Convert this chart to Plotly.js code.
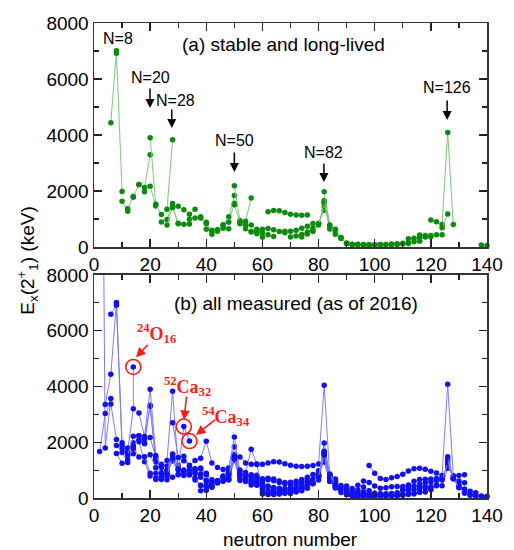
<!DOCTYPE html>
<html><head><meta charset="utf-8">
<script src="https://cdn.plot.ly/plotly-3.0.1.min.js"></script>
<style>html,body{margin:0;padding:0;background:#fff}#chart{width:514px;height:550px}</style>
</head><body><div id="chart"></div>
<script>
// ---------- (a) stable and long-lived : isotopic chains [N, E(2+1) keV] ----------
const stC  = [[6,4439],[8,7012]];
const stO  = [[8,6917],[10,1982]];
const stNe = [[10,1634],[12,1275]];
const stMg = [[12,1369],[14,1809]];
const stSi = [[14,1779],[16,2235]];
const stS  = [[16,2230],[18,2128],[20,3291]];
const stAr = [[18,1970],[20,2168],[22,1461]];
const stCa = [[20,3904],[22,1525],[24,1157],[26,1346],[28,3832]];
const stTi = [[24,889],[26,984],[28,1554]];
const stCr = [[26,783],[28,1434],[30,835]];
const stFe = [[28,1408],[30,847],[32,811],[34,824]];
const stNi = [[30,1454],[32,1333],[34,1173],[36,1346]];
const stZn = [[34,992],[36,1039],[38,1077],[40,885]];
const stGe = [[38,1040],[40,834],[42,596],[44,563]];
const stSe = [[40,635],[42,559],[44,614],[46,666],[48,655]];
const stKr = [[42,455],[44,617],[46,777],[48,882],[50,1565]];
const stSr = [[46,793],[48,1077],[50,1836]];
const stZr = [[50,2186],[52,935],[54,919],[56,1751]];
const stMo = [[50,1510],[52,871],[54,778],[56,787],[58,536]];
const stRu = [[52,833],[54,652],[56,540],[58,475],[60,358]];
const stPd = [[56,556],[58,556],[60,512],[62,434],[64,374]];
const stCd = [[58,633],[60,633],[62,658],[64,618],[66,558],[68,513]];
const stSn = [[62,1257],[64,1300],[66,1294],[68,1230],[70,1171],[72,1141],[74,1132],[76,1141]];
const stTe = [[68,560],[70,564],[72,603],[74,666],[76,743],[78,839]];
const stXe = [[70,354],[72,389],[74,443],[76,536],[78,668],[80,847],[82,1313]];
const stBa = [[74,357],[76,465],[78,605],[80,818],[82,1436]];
const stCe = [[78,552],[80,789],[82,1596],[84,641]];
const stNd = [[82,1576],[84,697],[86,454],[88,302],[90,130]];
const stSm = [[82,1660],[84,747],[86,550],[88,334],[90,122],[92,82]];
const stGd = [[82,1972],[84,784],[86,638],[88,344],[90,123],[92,89],[94,80],[96,75]];
const stDy = [[90,138],[92,99],[94,87],[96,81],[98,73]];
const stEr = [[94,102],[96,91],[98,81],[100,80],[102,79]];
const stYb = [[98,88],[100,84],[102,79],[104,77],[106,82]];
const stHf = [[102,91],[104,88],[106,93],[108,93]];
const stW  = [[106,104],[108,100],[110,111],[112,122]];
const stOs = [[108,120],[110,137],[112,155],[114,187],[116,206]];
const stPt = [[112,296],[114,317],[116,328],[118,356],[120,407]];
const stHg = [[116,426],[118,412],[120,368],[122,440],[124,437]];
const stPb = [[120,961],[122,899],[124,803],[126,4085],[128,800]];
const stPo = [[124,687],[126,1181]];
const stRaTh = [[138,68],[140,53]];
const stableChains = [stC,stO,stNe,stMg,stSi,stS,stAr,stCa,stTi,stCr,stFe,stNi,stZn,stGe,stSe,stKr,stSr,stZr,stMo,stRu,stPd,stCd,stSn,stTe,stXe,stBa,stCe,stNd,stSm,stGd,stDy,stEr,stYb,stHf,stW,stOs,stPt,stHg,stPb,stPo,stRaTh];

// ---------- (b) all measured (as of 2016) ----------
const allHe = [[2,27000],[4,1797],[6,3570]];
const allBe = [[2,1670],[4,3030],[6,3368],[8,2102]];
const allC  = [[4,3354],[6,4439],[8,7012],[10,1766],[12,1585],[14,1588]];
const allO  = [[6,6590],[8,6917],[10,1982],[12,1674],[14,3199],[14,4700]];
const allNe = [[8,1887],[10,1634],[12,1275],[14,1982],[16,2018],[18,1304],[20,792],[22,722]];
const allMg = [[8,1598],[10,1247],[12,1369],[14,1809],[16,1474],[18,1483],[20,885],[22,660],[24,660],[26,656]];
const allSi = [[10,1879],[12,1796],[14,1779],[16,2235],[18,1942],[20,3328],[22,1399],[24,1084],[26,986],[28,742]];
const allS  = [[12,1512],[14,2211],[16,2230],[18,2128],[20,3291],[22,1292],[24,904],[26,890],[28,1329]];
const allAr = [[14,1867],[16,2091],[18,1970],[20,2168],[22,1461],[24,1208],[26,1144],[28,1577],[30,1178]];
const allCa = [[16,3045],[18,2206],[20,3904],[22,1525],[24,1157],[26,1346],[28,3832],[30,1027],[32,2563],[34,2043]];
const allTi = [[20,1555],[22,1083],[24,889],[26,984],[28,1554],[30,1050],[32,1495],[34,1128],[36,1047]];
const allCr = [[22,892],[24,752],[26,783],[28,1434],[30,835],[32,1007],[34,880],[36,646],[38,446],[40,420]];
const allFe = [[24,765],[26,849],[28,1408],[30,847],[32,811],[34,824],[36,877],[38,746],[40,573],[42,522]];
const allNi = [[28,2701],[30,1454],[32,1333],[34,1173],[36,1346],[38,1425],[40,2033],[42,1260],[44,1096],[46,1024],[48,992]];
const allZn = [[30,1004],[32,954],[34,992],[36,1039],[38,1077],[40,885],[42,653],[44,606],[46,599],[48,730],[50,1492]];
const allGe = [[32,902],[34,957],[36,1016],[38,1040],[40,834],[42,596],[44,563],[46,619],[48,659],[50,1348],[52,625]];
const allSe = [[34,854],[36,945],[38,862],[40,635],[42,559],[44,614],[46,666],[48,655],[50,1455],[52,704],[54,590]];
const allKr = [[36,710],[38,456],[40,424],[42,455],[44,617],[46,777],[48,882],[50,1565],[52,775],[54,707],[56,769],[58,665],[60,554]];
const allSr = [[38,261],[40,278],[42,386],[44,573],[46,793],[48,1077],[50,1836],[52,832],[54,815],[56,837],[58,815],[60,144],[62,129],[64,126]];
const allZr = [[40,290],[42,407],[44,540],[46,752],[48,1057],[50,2186],[52,935],[54,919],[56,1751],[58,1223],[60,212],[62,152],[64,140],[66,152],[68,175]];
const allMo = [[42,444],[44,567],[46,740],[48,948],[50,1510],[52,871],[54,778],[56,787],[58,536],[60,297],[62,192],[64,172],[66,193],[68,214]];
const allRu = [[44,616],[46,739],[48,865],[50,1431],[52,833],[54,652],[56,540],[58,475],[60,358],[62,270],[64,242],[66,241],[68,237],[70,265],[72,270]];
const allPd = [[48,814],[50,1415],[52,863],[54,666],[56,556],[58,556],[60,512],[62,434],[64,374],[66,349],[68,333],[70,341],[72,379],[74,438]];
const allCd = [[50,1395],[52,1004],[54,777],[56,658],[58,633],[60,633],[62,658],[64,618],[66,558],[68,513],[70,488],[72,506],[74,569],[76,613],[78,652],[80,645]];
const allSn = [[52,1472],[54,1260],[56,1208],[58,1206],[60,1212],[62,1257],[64,1300],[66,1294],[68,1230],[70,1171],[72,1141],[74,1132],[76,1141],[78,1169],[80,1221],[82,4041],[84,726],[86,682]];
const allTe = [[58,744],[60,689],[62,709],[64,679],[66,606],[68,560],[70,564],[72,603],[74,666],[76,743],[78,839],[80,974],[82,1279],[84,606],[86,443]];
const allXe = [[56,470],[58,453],[60,450],[62,393],[64,337],[66,322],[68,331],[70,354],[72,389],[74,443],[76,536],[78,668],[80,847],[82,1313],[84,589],[86,377],[88,287],[90,252]];
const allBa = [[64,185],[66,196],[68,230],[70,256],[72,284],[74,357],[76,465],[78,605],[80,818],[82,1436],[84,602],[86,360],[88,199],[90,181],[92,142]];
const allCe = [[66,142],[68,170],[70,207],[72,254],[74,325],[76,409],[78,552],[80,789],[82,1596],[84,641],[86,397],[88,258],[90,158],[92,97]];
const allNd = [[70,159],[72,213],[74,294],[76,374],[78,521],[80,774],[82,1576],[84,697],[86,454],[88,302],[90,130],[92,73],[94,71]];
const allSm = [[74,256],[76,347],[78,531],[80,768],[82,1660],[84,747],[86,550],[88,334],[90,122],[92,82],[94,76],[96,73]];
const allGd = [[78,515],[80,743],[82,1972],[84,784],[86,638],[88,344],[90,123],[92,89],[94,80],[96,75],[98,72]];
const allDy = [[82,1677],[84,803],[86,614],[88,335],[90,138],[92,99],[94,87],[96,81],[98,73],[100,77]];
const allEr = [[82,1579],[84,808],[86,561],[88,344],[90,192],[92,126],[94,102],[96,91],[98,81],[100,80],[102,79],[104,77]];
const allYb = [[82,1531],[84,821],[86,536],[88,358],[90,243],[92,167],[94,123],[96,102],[98,88],[100,84],[102,79],[104,77],[106,82],[108,84]];
const allHf = [[84,858],[86,477],[88,390],[90,285],[92,211],[94,159],[96,124],[98,100],[100,95],[102,91],[104,88],[106,93],[108,93],[110,98]];
const allW  = [[88,450],[90,332],[92,252],[94,199],[96,157],[98,123],[100,112],[102,109],[104,106],[106,104],[108,100],[110,111],[112,122],[114,143],[116,207]];
const allOs = [[90,431],[92,341],[94,287],[96,228],[98,159],[100,135],[102,132],[104,132],[106,127],[108,120],[110,137],[112,155],[114,187],[116,206],[118,218],[120,300]];
const allPt = [[94,458],[96,394],[98,264],[100,170],[102,153],[104,155],[106,163],[108,192],[110,266],[112,296],[114,317],[116,328],[118,356],[120,407],[122,470],[124,720]];
const allHg = [[96,613],[98,558],[100,434],[102,352],[104,367],[106,405],[108,413],[110,416],[112,423],[114,428],[116,426],[118,412],[120,368],[122,440],[124,437],[126,1068]];
const allPb = [[98,1168],[100,888],[102,702],[104,662],[106,724],[108,774],[110,854],[112,965],[114,1049],[116,1064],[118,1027],[120,961],[122,899],[124,803],[126,4085],[128,800],[130,805],[132,836]];
const allPo = [[110,320],[112,463],[114,605],[116,666],[118,677],[120,684],[122,701],[124,687],[126,1181],[128,727],[130,609],[132,550]];
const allRn = [[116,504],[118,543],[120,575],[122,636],[124,644],[126,1274],[128,695],[130,462],[132,324],[134,241],[136,186]];
const allRa = [[126,1383],[128,688],[130,389],[132,178],[134,111],[136,84],[138,68],[140,64]];
const allTh = [[126,1478],[128,690],[130,370],[132,183],[134,98],[136,72],[138,58],[140,53]];
const allChains = [allHe,allBe,allC,allO,allNe,allMg,allSi,allS,allAr,allCa,allTi,allCr,allFe,allNi,allZn,allGe,allSe,allKr,allSr,allZr,allMo,allRu,allPd,allCd,allSn,allTe,allXe,allBa,allCe,allNd,allSm,allGd,allDy,allEr,allYb,allHf,allW,allOs,allPt,allHg,allPb,allPo,allRn,allRa,allTh];

// highlighted nuclei (circled)
const hlNames = ['<sup>24</sup>O<sub>16</sub>','<sup>52</sup>Ca<sub>32</sub>','<sup>54</sup>Ca<sub>34</sub>'];
const hlN = [14, 32, 34];
const hlE = [4700, 2563, 2043];

// magic-number labels in panel (a)
const magicLabels = ['N=8','N=20','N=28','N=50','N=82','N=126'];

// ---------- build traces ----------
const traces = [];
function addChains(chains, xa, ya, lineCol, markCol){
  chains.forEach(c => {
    traces.push({
      x: c.map(p=>p[0]), y: c.map(p=>p[1]), xaxis: xa, yaxis: ya,
      type:'scatter', mode:'lines+markers', cliponaxis:false,
      line:{color:lineCol, width:1}, marker:{color:markCol, size:5.5},
      showlegend:false, hoverinfo:'skip'
    });
  });
}
addChains(stableChains, 'x', 'y', '#7cc97c', '#0b8a0b');
addChains(allChains, 'x2', 'y2', '#7b7bff', '#1010f0');
traces.push({
  x: hlN, y: hlE, xaxis:'x2', yaxis:'y2', type:'scatter', mode:'markers', cliponaxis:false,
  marker:{symbol:'circle-open', size:15, color:'#ff1a1a', line:{width:1.6, color:'#ff1a1a'}},
  showlegend:false, hoverinfo:'skip'
});

const tickFont = {family:'Liberation Sans, Arial, sans-serif', size:19, color:'#000'};
function xax(anchor){
  return {
    range:[0,140], anchor:anchor, dtick:20, tick0:0, ticks:'inside', ticklen:8, tickwidth:1.3,
    tickcolor:'#222', showline:true, linecolor:'#333', linewidth:1.5, mirror:'allticks',
    showgrid:false, zeroline:false, tickfont:tickFont,
    minor:{dtick:10, ticks:'inside', ticklen:5, tickwidth:1.2, tickcolor:'#222', showgrid:false}
  };
}
function yax(domain, anchor){
  return {
    range:[0,8000], domain:domain, anchor:anchor, dtick:2000, ticks:'inside', ticklen:8, tickwidth:1.3,
    tickcolor:'#222', showline:true, linecolor:'#333', linewidth:1.5, mirror:'allticks',
    showgrid:false, zeroline:false, tickfont:tickFont,
    minor:{dtick:1000, ticks:'inside', ticklen:5, tickwidth:1.2, tickcolor:'#222', showgrid:false}
  };
}

const annFont = {family:'Liberation Sans, Arial, sans-serif', size:16, color:'#000'};
const redFont = {family:'Liberation Serif, Times New Roman, serif', size:18, color:'#ff1a1a', weight:'bold'};
const annotations = [];
// label text positions (panel a, data coords) and arrows (head position + pixel offset to tail)
const magicTextN = [8.4, 19.95, 28.86, 50.2, 81.9, 125.8];
const magicTextE = [7430, 6071, 5250, 3821, 3393, 5679];
magicLabels.forEach((t,i)=>{
  annotations.push({xref:'x', yref:'y', x:magicTextN[i], y:magicTextE[i], text:t, showarrow:false,
    xanchor:'center', yanchor:'middle', font:annFont});
});
const arrowN = [19.95, 27.7, 50.0, 81.9, 125.8];
const arrowE = [4964, 4250, 2680, 2320, 4536];
const arrowAy = [-21, -20, -21, -20, -21];
arrowN.forEach((n,i)=>{
  annotations.push({xref:'x', yref:'y', x:n, y:arrowE[i], text:'', showarrow:true,
    arrowhead:2, arrowsize:1.2, arrowwidth:1.5, arrowcolor:'#000', ax:0, ay:arrowAy[i]});
});
// red labels and arrows (panel b)
const hlTextN = [22.09, 33.31, 46.85];
const hlTextE = [5901, 4000, 2924];
hlNames.forEach((t,i)=>{
  annotations.push({xref:'x2', yref:'y2', x:hlTextN[i], y:hlTextE[i], text:t, showarrow:false,
    xanchor:'center', yanchor:'middle', font:redFont});
});
const hlArrowN = [14.96, 32.06, 36.34];
const hlArrowE = [5047, 2798, 2260];
const hlAx = [13.3, 2.7, 20.7];
const hlAy = [-14, -25, -16.7];
hlArrowN.forEach((n,i)=>{
  annotations.push({xref:'x2', yref:'y2', x:n, y:hlArrowE[i], text:'', showarrow:true,
    arrowhead:2, arrowsize:1.2, arrowwidth:1.6, arrowcolor:'#ff1a1a', ax:hlAx[i], ay:hlAy[i]});
});
const bigFont = {family:'Liberation Sans, Arial, sans-serif', size:19, color:'#000'};
annotations.push({xref:'paper', yref:'paper', x:0.481, y:0.9537, xanchor:'center', yanchor:'middle', text:'(a) stable and long-lived', showarrow:false, font:bigFont});
annotations.push({xref:'paper', yref:'paper', x:0.514, y:0.4105, xanchor:'center', yanchor:'middle', text:'(b) all measured (as of 2016)', showarrow:false, font:bigFont});
annotations.push({xref:'paper', yref:'paper', x:-0.17, y:0.5, xanchor:'center', yanchor:'middle', text:'E<sub>x</sub>(2<sup>+</sup><sub>1</sub>) (keV)', textangle:-90, showarrow:false, font:bigFont});
annotations.push({xref:'paper', yref:'paper', x:0.5, y:-0.088, xanchor:'center', yanchor:'middle', text:'neutron number', showarrow:false, font:bigFont});

const layout = {
  width:514, height:550, margin:{l:94, r:27, t:23, b:52},
  paper_bgcolor:'#fff', plot_bgcolor:'#fff', showlegend:false,
  xaxis: xax('y'), yaxis: yax([0.5284,1], 'x'),
  xaxis2: xax('y2'), yaxis2: yax([0,0.4695], 'x2'),
  annotations: annotations
};
Plotly.newPlot('chart', traces, layout, {staticPlot:true, displayModeBar:false});
</script>
</body></html>
